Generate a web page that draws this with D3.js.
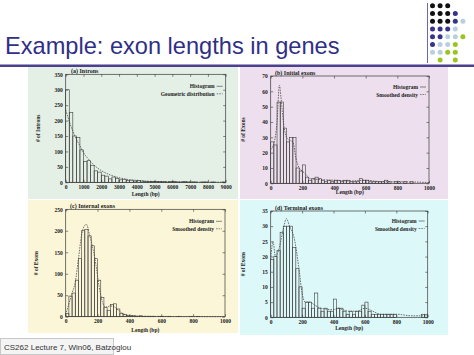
<!DOCTYPE html>
<html>
<head>
<meta charset="utf-8">
<script src="https://cdn.jsdelivr.net/npm/d3@7"></script>
<style>
  body { margin: 0; background: #fff; }
  svg { display: block; }
</style>
</head>
<body>
<script>

// histogram counts, one value per bin (introns: 200 bp bins, exons: 20 bp bins)
let intronCounts = [300, 226, 150, 145, 105, 67, 70, 55, 37, 33, 23, 20, 11, 17, 13, 8, 10, 6, 7, 4, 6, 4, 3, 3, 2, 3, 2, 2, 1, 2, 2, 1, 1, 2, 1, 1, 1, 0, 1, 1, 0, 1, 0, 0, 1]
let initialCounts = [27, 25, 53, 53, 36, 27, 30, 30, 10, 8, 12, 4, 2, 3, 4, 3, 2, 1, 2, 1, 2, 2, 1, 2, 2, 1, 1, 1, 3, 2, 2, 1, 1, 1, 1, 1, 2, 1, 0, 1, 1, 0, 1, 0, 1, 0, 0, 0, 0, 0]
let internalCounts = [8, 48, 55, 85, 135, 200, 203, 188, 165, 135, 85, 45, 22, 15, 28, 30, 18, 8, 5, 3, 2, 2, 1, 2, 1, 1, 1, 1, 0, 1, 1, 0, 1, 0, 0, 1, 0, 0, 0, 1, 0, 1, 0, 0, 0, 0, 0, 0, 0, 0]
let terminalCounts = [19, 20, 22, 28, 30, 30, 30, 23, 16, 10, 3, 5, 5, 3, 8, 3, 2, 3, 2, 2, 6, 3, 3, 2, 1, 2, 1, 2, 2, 4, 5, 2, 1, 1, 1, 1, 1, 1, 1, 1, 0, 0, 0, 0, 0, 0, 0, 0, 1, 1]

let intronBin = 200
let exonBin = 20

// fitted curves as [length, count]
let intronCurve = [[0, 235], [200, 198], [400, 166], [600, 140], [800, 118], [1000, 96], [1250, 77], [1500, 61], [1750, 48], [2000, 38], [2500, 24], [3000, 15], [3500, 9], [4000, 6], [5000, 2.5], [6000, 1], [7000, 0.5], [8000, 0.2], [9000, 0.1]]
let initialCurve = [[0, 22], [20, 26], [40, 40], [55, 64], [65, 56], [80, 40], [100, 30], [120, 28], [140, 27], [160, 16], [180, 10], [200, 8], [220, 6], [250, 3], [300, 2.5], [400, 2], [500, 1.5], [600, 2], [700, 1], [800, 1], [1000, 0.5]]
let internalCurve = [[0, 5], [20, 30], [40, 55], [60, 80], [80, 135], [100, 190], [120, 213], [130, 215], [150, 190], [170, 160], [190, 120], [210, 70], [230, 35], [250, 22], [280, 25], [300, 24], [330, 15], [360, 7], [400, 3], [500, 1], [1000, 0]]
let terminalCurve = [[0, 19], [15, 25], [30, 20], [50, 22], [80, 29], [100, 32.5], [120, 30], [150, 26], [180, 16], [200, 8], [220, 5], [250, 5], [280, 4], [320, 3], [400, 2.5], [430, 3], [460, 2.5], [500, 2], [550, 2], [600, 3], [650, 2], [700, 1], [800, 1], [900, 0.5], [1000, 0.5]]

// tick labels
let intronXTicks = [0, 1000, 2000, 3000, 4000, 5000, 6000, 7000, 8000, 9000]
let exonXTicks = [0, 200, 400, 600, 800, 1000]
let intronYTicks = [0, 50, 100, 150, 200, 250, 300, 350]
let initialYTicks = [0, 10, 20, 30, 40, 50, 60, 70]
let internalYTicks = [0, 50, 100, 150, 200, 250]
let terminalYTicks = [0, 5, 10, 15, 20, 25, 30, 35]

let svg = d3.select("body").append("svg").attr("width", 474).attr("height", 355)

// slide header
svg.append("text")
  .attr("x", 5).attr("y", 54)
  .attr("font-family", "Liberation Sans, Arial, sans-serif")
  .attr("font-size", "23.6px")
  .attr("fill", "#2f2f86")
  .text("Example: exon lengths in genes")

svg.append("rect").attr("x", 0).attr("y", 64.5).attr("width", 474).attr("height", 2.5).attr("fill", "#4a3f90")
svg.append("line").attr("x1", 427.5).attr("x2", 427.5).attr("y1", 3).attr("y2", 63).attr("stroke", "#6b6aa6").attr("stroke-width", 1)

let dotRows = ["KKK..", "KKKP.", "KKKPL", "PPPL.", "PPLLG", "PLLG.", "LLGG.", ".G.G."]
let dotColors = {K: "#111111", P: "#35338c", L: "#b9cfe0", G: "#9cc41f"}

dotRows.forEach(function(row, r) {
  row.split("").forEach(function(c, i) {
    if (c == ".") return
    svg.append("circle")
      .attr("cx", 432.5 + i * 7.6)
      .attr("cy", 5.8 + r * 7.75)
      .attr("r", 2.5)
      .attr("fill", dotColors[c])
  })
})

// footer
svg.append("rect").attr("x", 0.5).attr("y", 338.5).attr("width", 113).attr("height", 16).attr("fill", "#f4f4f4").attr("stroke", "#c8c8c8")
svg.append("text")
  .attr("x", 4).attr("y", 350)
  .attr("font-family", "Liberation Sans, Arial, sans-serif")
  .attr("font-size", "8px")
  .attr("fill", "#333")
  .text("CS262 Lecture 7, Win06, Batzoglou")

let panels = [
  {title: "(a) Introns", counts: intronCounts, bin: intronBin, curve: intronCurve, curveName: "Geometric distribution",
   yLabel: "# of Introns", xTicks: intronXTicks, yTicks: intronYTicks, xMax: 9000, yMax: 350,
   bg: "#e4efe6", box: [28, 67, 238, 199], plot: [65.7, 74.3, 225.7, 182.3], legendY: 12, titleX: 71, axisTitleX: 40, lengthY: 196},
  {title: "(b) Initial exons", counts: initialCounts, bin: exonBin, curve: initialCurve, curveName: "Smoothed density",
   yLabel: "# of Exons", xTicks: exonXTicks, yTicks: initialYTicks, xMax: 1000, yMax: 70,
   bg: "#eddfed", box: [240, 67, 448, 199], plot: [270.7, 76, 429, 183.3], legendY: 11, titleX: 275, axisTitleX: 245, lengthY: 194},
  {title: "(c) Internal exons", counts: internalCounts, bin: exonBin, curve: internalCurve, curveName: "Smoothed density",
   yLabel: "# of Exons", xTicks: exonXTicks, yTicks: internalYTicks, xMax: 1000, yMax: 250,
   bg: "#fcf6d8", box: [28, 200, 238, 333], plot: [65.7, 209.3, 225, 316.7], legendY: 12, titleX: 70, axisTitleX: 38, lengthY: 332},
  {title: "(d) Terminal exons", counts: terminalCounts, bin: exonBin, curve: terminalCurve, curveName: "Smoothed density",
   yLabel: "# of Exons", xTicks: exonXTicks, yTicks: terminalYTicks, xMax: 1000, yMax: 35,
   bg: "#ddf8f8", box: [240, 200, 448, 335], plot: [270.7, 211, 427.7, 317.3], legendY: 10, titleX: 275, axisTitleX: 245, lengthY: 330}
]

let font = "Liberation Serif, Times New Roman, serif"
let ink = "#3a3a3a"

panels.forEach(function(p) {

  svg.append("rect")
    .attr("x", p.box[0]).attr("y", p.box[1])
    .attr("width", p.box[2] - p.box[0]).attr("height", p.box[3] - p.box[1])
    .attr("fill", p.bg)

  let left = p.plot[0], top = p.plot[1], right = p.plot[2], bottom = p.plot[3]

  let x = d3.scaleLinear().domain([0, p.xMax]).range([left, right])
  let y = d3.scaleLinear().domain([0, p.yMax]).range([bottom, top])

  let g = svg.append("g")

  // bars
  g.selectAll(".bar")
    .data(p.counts)
    .enter()
    .append("rect")
    .attr("x", function(d, i) { return x(i * p.bin) })
    .attr("y", function(d) { return y(d) })
    .attr("width", function(d, i) { return x((i + 1) * p.bin) - x(i * p.bin) })
    .attr("height", function(d) { return y(0) - y(d) })
    .attr("fill", "none")
    .attr("stroke", ink)
    .attr("stroke-width", 0.6)

  // curve
  let line = d3.line()
    .x(function(d) { return x(d[0]) })
    .y(function(d) { return y(d[1]) })
    .curve(d3.curveMonotoneX)

  g.append("path")
    .datum(p.curve)
    .attr("d", line)
    .attr("fill", "none")
    .attr("stroke", ink)
    .attr("stroke-width", 0.7)
    .attr("stroke-dasharray", "1.6,1")

  // axes, ticks inside on all four sides
  let xAxis = g.append("g").attr("transform", "translate(0," + bottom + ")")
    .call(d3.axisBottom(x).tickValues(p.xTicks).tickFormat(d3.format("d")).tickSize(-2.5).tickSizeOuter(0).tickPadding(2.5))
  let yAxis = g.append("g").attr("transform", "translate(" + left + ",0)")
    .call(d3.axisLeft(y).tickValues(p.yTicks).tickFormat(d3.format("d")).tickSize(-2.5).tickSizeOuter(0).tickPadding(3))
  let xTop = g.append("g").attr("transform", "translate(0," + top + ")")
    .call(d3.axisTop(x).tickValues(p.xTicks).tickSize(-2.5).tickSizeOuter(0).tickFormat(""))
  let yRight = g.append("g").attr("transform", "translate(" + right + ",0)")
    .call(d3.axisRight(y).tickValues(p.yTicks).tickSize(-2.5).tickSizeOuter(0).tickFormat(""))

  ;[xAxis, yAxis, xTop, yRight].forEach(function(a) {
    a.select(".domain").remove()
    a.selectAll("line").attr("stroke", ink).attr("stroke-width", 0.6)
    a.selectAll("text")
      .attr("font-family", font)
      .attr("font-weight", "bold")
      .attr("font-size", "5.5px")
      .attr("fill", "#222")
  })

  g.append("rect")
    .attr("x", left).attr("y", top)
    .attr("width", right - left).attr("height", bottom - top)
    .attr("fill", "none")
    .attr("stroke", ink)
    .attr("stroke-width", 0.7)

  // labels
  g.append("text")
    .attr("x", p.titleX).attr("y", top - 1)
    .attr("font-family", font).attr("font-weight", "bold").attr("font-size", "6px").attr("fill", "#222")
    .text(p.title)

  g.append("text")
    .attr("x", (left + right) / 2).attr("y", p.lengthY)
    .attr("text-anchor", "middle")
    .attr("font-family", font).attr("font-weight", "bold").attr("font-size", "5.5px").attr("fill", "#222")
    .text("Length (bp)")

  g.append("text")
    .attr("transform", "translate(" + p.axisTitleX + "," + (top + bottom) / 2 + ") rotate(-90)")
    .attr("text-anchor", "middle")
    .attr("font-family", font).attr("font-weight", "bold").attr("font-size", "5.5px").attr("fill", "#222")
    .text(p.yLabel)

  // legend
  let legend = [{name: "Histogram", dash: null}, {name: p.curveName, dash: "1.6,1"}]

  legend.forEach(function(l, i) {
    let ly = top + p.legendY + i * 7.5
    g.append("text")
      .attr("x", right - 11).attr("y", ly + 2)
      .attr("text-anchor", "end")
      .attr("font-family", font).attr("font-weight", "bold").attr("font-size", "5.5px").attr("fill", "#222")
      .text(l.name)
    g.append("line")
      .attr("x1", right - 9).attr("x2", right - 3)
      .attr("y1", ly).attr("y2", ly)
      .attr("stroke", ink).attr("stroke-width", 0.6)
      .attr("stroke-dasharray", l.dash)
  })

})

</script>
</body>
</html>
